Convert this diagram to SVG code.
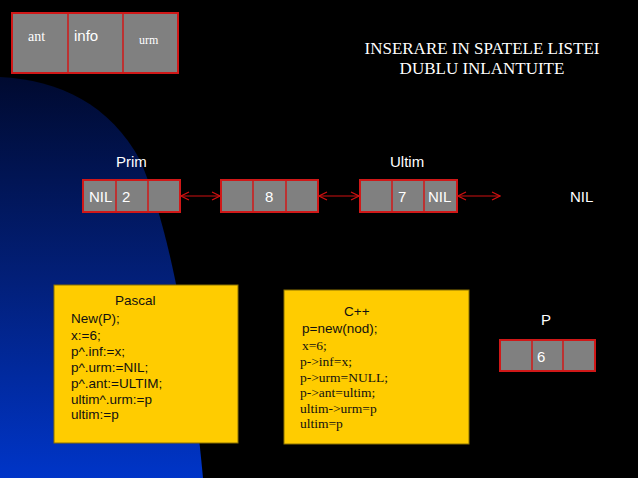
<svg xmlns="http://www.w3.org/2000/svg" width="638" height="478" viewBox="0 0 638 478">
<defs>
<linearGradient id="bg" x1="0" y1="0" x2="0" y2="1"><stop offset="0" stop-color="#000a30"/><stop offset="0.5" stop-color="#021f78"/><stop offset="1" stop-color="#0035c8"/></linearGradient>
<marker id="ah" markerWidth="10" markerHeight="10" refX="9" refY="5" orient="auto-start-reverse" markerUnits="userSpaceOnUse"><path d="M1,1 L9,5 L1,9" fill="none" stroke="#d01010" stroke-width="1.2"/></marker>
</defs>
<style>
.cell{fill:#808080;stroke:#d01818;stroke-width:2}
.div{stroke:#d01818;stroke-width:1.5}
.t{font-family:"Liberation Sans",Arial,sans-serif;fill:#fff;font-size:15px}
.s{font-family:"Liberation Serif","Times New Roman",serif;fill:#fff}
.code{font-family:"Liberation Sans",Arial,sans-serif;fill:#111;font-size:13.5px}
.codes{font-family:"Liberation Serif","Times New Roman",serif;fill:#111;font-size:13.5px}
.box{fill:#ffcc00;stroke:#8a7000;stroke-width:1}
.con{stroke:#d01010;stroke-width:1.2;fill:none;marker-start:url(#ah);marker-end:url(#ah)}
</style>
<rect width="638" height="478" fill="#000"/>
<path d="M0,77 C60,80 110,105 140,160 C170,230 190,340 203,478 L0,478 Z" fill="url(#bg)"/>
<g id="legend">
<rect class="cell" x="12" y="13" width="166" height="60"/>
<line class="div" x1="68" y1="13" x2="68" y2="73"/><line class="div" x1="123" y1="13" x2="123" y2="73"/>
<text class="s" x="28" y="41" font-size="14">ant</text>
<text class="t" x="74" y="41">info</text>
<text class="s" x="139" y="44" font-size="12">urm</text>
</g>
<g id="title">
<text class="s" x="482" y="54" font-size="17" text-anchor="middle">INSERARE IN SPATELE LISTEI</text>
<text class="s" x="482" y="74" font-size="17" text-anchor="middle">DUBLU INLANTUITE</text>
</g>
<text class="t" x="116" y="167">Prim</text>
<text class="t" x="390" y="167">Ultim</text>
<g id="n1"><rect class="cell" x="83" y="180" width="97" height="32"/><line class="div" x1="116" y1="180" x2="116" y2="212"/><line class="div" x1="148" y1="180" x2="148" y2="212"/><text class="t" x="89" y="202">NIL</text><text class="t" x="122" y="202">2</text></g>
<g id="n2"><rect class="cell" x="221" y="180" width="97" height="32"/><line class="div" x1="253" y1="180" x2="253" y2="212"/><line class="div" x1="286" y1="180" x2="286" y2="212"/><text class="t" x="265" y="202">8</text></g>
<g id="n3"><rect class="cell" x="360" y="180" width="97" height="32"/><line class="div" x1="392" y1="180" x2="392" y2="212"/><line class="div" x1="424" y1="180" x2="424" y2="212"/><text class="t" x="398" y="202">7</text><text class="t" x="428" y="202">NIL</text></g>
<text class="t" x="570" y="202">NIL</text>
<g id="connectors">
<line class="con" x1="181" y1="196" x2="220" y2="196"/>
<line class="con" x1="319" y1="196" x2="359" y2="196"/>
<line class="con" x1="458" y1="196" x2="500" y2="196"/>
</g>
<g id="pascal">
<rect class="box" x="54" y="285" width="184" height="158"/>
<text class="code" x="115" y="305">Pascal</text>
<text class="code" x="71" y="323">New(P);</text>
<text class="code" x="71" y="340">x:=6;</text>
<text class="code" x="71" y="356">p^.inf:=x;</text>
<text class="code" x="71" y="372">p^.urm:=NIL;</text>
<text class="code" x="71" y="388">p^.ant:=ULTIM;</text>
<text class="code" x="71" y="404">ultim^.urm:=p</text>
<text class="code" x="71" y="419">ultim:=p</text>
</g>
<g id="cpp">
<rect class="box" x="284" y="290" width="185" height="154"/>
<text class="code" x="344" y="316">C++</text>
<text class="code" x="302" y="333">p=new(nod);</text>
<text class="codes" x="302" y="350">x=6;</text>
<text class="codes" x="300" y="366">p-&gt;inf=x;</text>
<text class="codes" x="300" y="382">p-&gt;urm=NULL;</text>
<text class="codes" x="300" y="397">p-&gt;ant=ultim;</text>
<text class="codes" x="300" y="413">ultim-&gt;urm=p</text>
<text class="codes" x="300" y="428">ultim=p</text>
</g>
<text class="t" x="541" y="325">P</text>
<g id="p"><rect class="cell" x="500" y="340" width="95" height="31"/><line class="div" x1="532" y1="340" x2="532" y2="371"/><line class="div" x1="563" y1="340" x2="563" y2="371"/><text class="t" x="537" y="362">6</text></g>
</svg>
